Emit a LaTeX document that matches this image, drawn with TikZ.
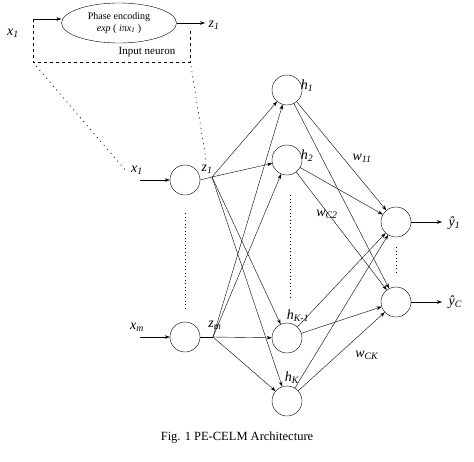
\documentclass[tikz,border=0pt]{standalone}
\usepackage{amsmath,amssymb}
\usepackage{fontspec}
\setmainfont{Liberation Serif}
\usetikzlibrary{positioning,arrows.meta,shapes,calc}
\newcommand{\sym}[2]{\textit{#1}\textsubscript{\textit{#2}}}
\tikzset{
    neuron/.style={draw, circle, minimum size=30pt, inner sep=0pt},
    link/.style={-{Stealth[length=5pt,width=3.5pt]}, thin},
    lab/.style={font=\fontsize{14}{14}\selectfont},
    guide/.style={dash pattern=on 1pt off 2.5pt, thin},
    zoomline/.style={dash pattern=on 1.2pt off 4pt, semithick}
}

\begin{document}
\begin{tikzpicture}[x=1pt, y=-1pt]
    \useasboundingbox (0,0) rectangle (474,461);

    % Input neuron (phase encoding)
    \node[draw, ellipse, minimum width=115pt, minimum height=40pt, inner sep=0pt,
          font=\fontsize{10}{11}\selectfont, align=center] (pe) at (119,23)
          {Phase encoding\\[1pt] \textit{exp} ( \textit{i}π\textit{x}\textsubscript{\textit{1}} )};
    \coordinate (pein) at (33,19);
    \coordinate (peout) at (205,23);
    \node[lab] (xa) at (13,33) {\sym{x}{1}};
    \node[lab] (za) at (214,25) {\sym{z}{1}};
    \draw[link] (pein) -- (pein -| pe.west);
    \draw[link] (peout -| pe.east) -- (peout);
    \draw[dashed, thick] (pein) -- (33,62) -- (190,62) -- (190,31);
    \node[font=\fontsize{11}{11}\selectfont] (inlab) at (147,52) {Input neuron};

    % Input layer
    \node[neuron] (in1) at (185,180) {};
    \node[neuron] (inm) at (185,337) {};
    \coordinate (z1o) at (212,177);
    \coordinate (zmo) at (213,337);
    \draw (in1.east) -- (z1o);
    \draw (inm.east) -- (zmo);
    \coordinate (x1i) at (140,180);
    \coordinate (xmi) at (140,337);
    \draw[link] (x1i) -- (in1);
    \draw[link] (xmi) -- (inm);
    \node[lab] (x1l) at (137,170) {\sym{x}{1}};
    \node[lab] (xml) at (137,327) {\sym{x}{m}};
    \node[lab] (z1l) at (207,169) {\sym{z}{1}};
    \node[lab] (zml) at (215,325) {\sym{z}{m}};

    % zoom guides
    \draw[zoomline] (36,66) -- (127,172);
    \draw[zoomline] (191,66) -- (206,160);

    % Hidden layer
    \node[neuron] (h1) at (287,90) {};
    \node[neuron] (h2) at (287,160) {};
    \node[neuron] (hk1) at (287,338) {};
    \node[neuron] (hk) at (287,401) {};
    \node[lab] (h1l) at (307,86) {\sym{h}{1}};
    \node[lab] (h2l) at (307,156) {\sym{h}{2}};
    \node[lab] (hk1l) at (298,316) {\sym{h}{K-1}};
    \node[lab] (hkl) at (292,378) {\sym{h}{K}};

    % Output layer
    \node[neuron] (o1) at (396,222) {};
    \node[neuron] (oc) at (396,302) {};
    \coordinate (y1o) at (442,222);
    \coordinate (yco) at (442,302);
    \draw[link] (o1) -- (y1o);
    \draw[link] (oc) -- (yco);
    \node[lab, anchor=west] (y1l) at (445,223) {\sym{\^{y}}{1}};
    \node[lab, anchor=west] (ycl) at (445,302) {\sym{\^{y}}{C}};

    % Connections
    \foreach \h in {h1,h2,hk1,hk} {
        \draw[link] (z1o) -- (\h);
        \draw[link] (zmo) -- (\h);
        \draw[link] (\h) -- (o1);
        \draw[link] (\h) -- (oc);
    }

    % Weight labels
    \node[lab] (w11) at (362,158) {\sym{w}{11}};
    \node[lab] (wc2) at (327,214) {\sym{w}{C2}};
    \node[lab] (wck) at (367,355) {\sym{w}{CK}};

    % Dots between neurons
    \draw[guide] (185,213) -- (185,308);
    \draw[guide] (290,195) -- (290,300);
    \draw[guide] (396,247) -- (396,275);

    \node[font=\fontsize{12.5}{12.5}\selectfont] (cap) at (237,438) {Fig. 1 PE-CELM Architecture};
\end{tikzpicture}
\end{document}
